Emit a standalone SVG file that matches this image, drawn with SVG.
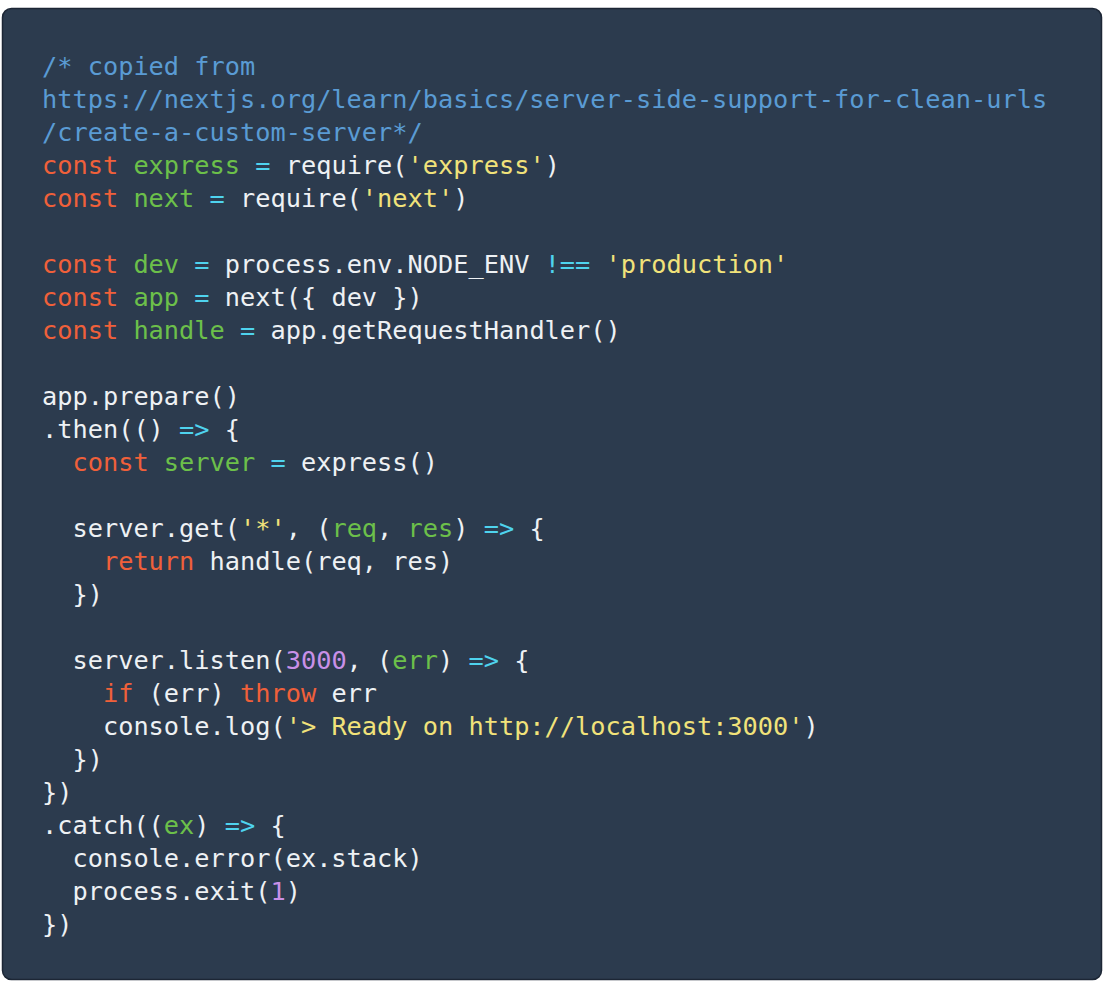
<svg xmlns="http://www.w3.org/2000/svg" width="1104" height="988" viewBox="0 0 1104 988">
<style>
text{font-family:"DejaVu Sans Mono",monospace;font-size:25.3px;fill:#eef1f4;white-space:pre}
.c{fill:#5a9bd4}.k{fill:#f0603a}.v{fill:#6cc04a}.o{fill:#4fd3ee}.s{fill:#f1e27a}.n{fill:#c890e8}
</style>
<rect width="1104" height="988" fill="#ffffff"/>
<rect x="2.5" y="8.5" width="1099" height="971" rx="9" fill="#2c3b4e" stroke="#1c2635" stroke-width="1.5"/>
<g id="code" xml:space="preserve">
<text x="42" y="75" class="c">/* copied from</text>
<text x="42" y="108" class="c">https://nextjs.org/learn/basics/server-side-support-for-clean-urls</text>
<text x="42" y="141" class="c">/create-a-custom-server*/</text>
<text x="42" y="174"><tspan class="k">const</tspan> <tspan class="v">express</tspan> <tspan class="o">=</tspan> require(<tspan class="s">'express'</tspan>)</text>
<text x="42" y="207"><tspan class="k">const</tspan> <tspan class="v">next</tspan> <tspan class="o">=</tspan> require(<tspan class="s">'next'</tspan>)</text>
<text x="42" y="273"><tspan class="k">const</tspan> <tspan class="v">dev</tspan> <tspan class="o">=</tspan> process.env.NODE_ENV <tspan class="o">!==</tspan> <tspan class="s">'production'</tspan></text>
<text x="42" y="306"><tspan class="k">const</tspan> <tspan class="v">app</tspan> <tspan class="o">=</tspan> next({ dev })</text>
<text x="42" y="339"><tspan class="k">const</tspan> <tspan class="v">handle</tspan> <tspan class="o">=</tspan> app.getRequestHandler()</text>
<text x="42" y="405">app.prepare()</text>
<text x="42" y="438">.then(() <tspan class="o">=&gt;</tspan> {</text>
<text x="42" y="471">  <tspan class="k">const</tspan> <tspan class="v">server</tspan> <tspan class="o">=</tspan> express()</text>
<text x="42" y="537">  server.get(<tspan class="s">'*'</tspan>, (<tspan class="v">req</tspan>, <tspan class="v">res</tspan>) <tspan class="o">=&gt;</tspan> {</text>
<text x="42" y="570">    <tspan class="k">return</tspan> handle(req, res)</text>
<text x="42" y="603">  })</text>
<text x="42" y="669">  server.listen(<tspan class="n">3000</tspan>, (<tspan class="v">err</tspan>) <tspan class="o">=&gt;</tspan> {</text>
<text x="42" y="702">    <tspan class="k">if</tspan> (err) <tspan class="k">throw</tspan> err</text>
<text x="42" y="735">    console.log(<tspan class="s">'&gt; Ready on http://localhost:3000'</tspan>)</text>
<text x="42" y="768">  })</text>
<text x="42" y="801">})</text>
<text x="42" y="834">.catch((<tspan class="v">ex</tspan>) <tspan class="o">=&gt;</tspan> {</text>
<text x="42" y="867">  console.error(ex.stack)</text>
<text x="42" y="900">  process.exit(<tspan class="n">1</tspan>)</text>
<text x="42" y="933">})</text>
</g>
</svg>
